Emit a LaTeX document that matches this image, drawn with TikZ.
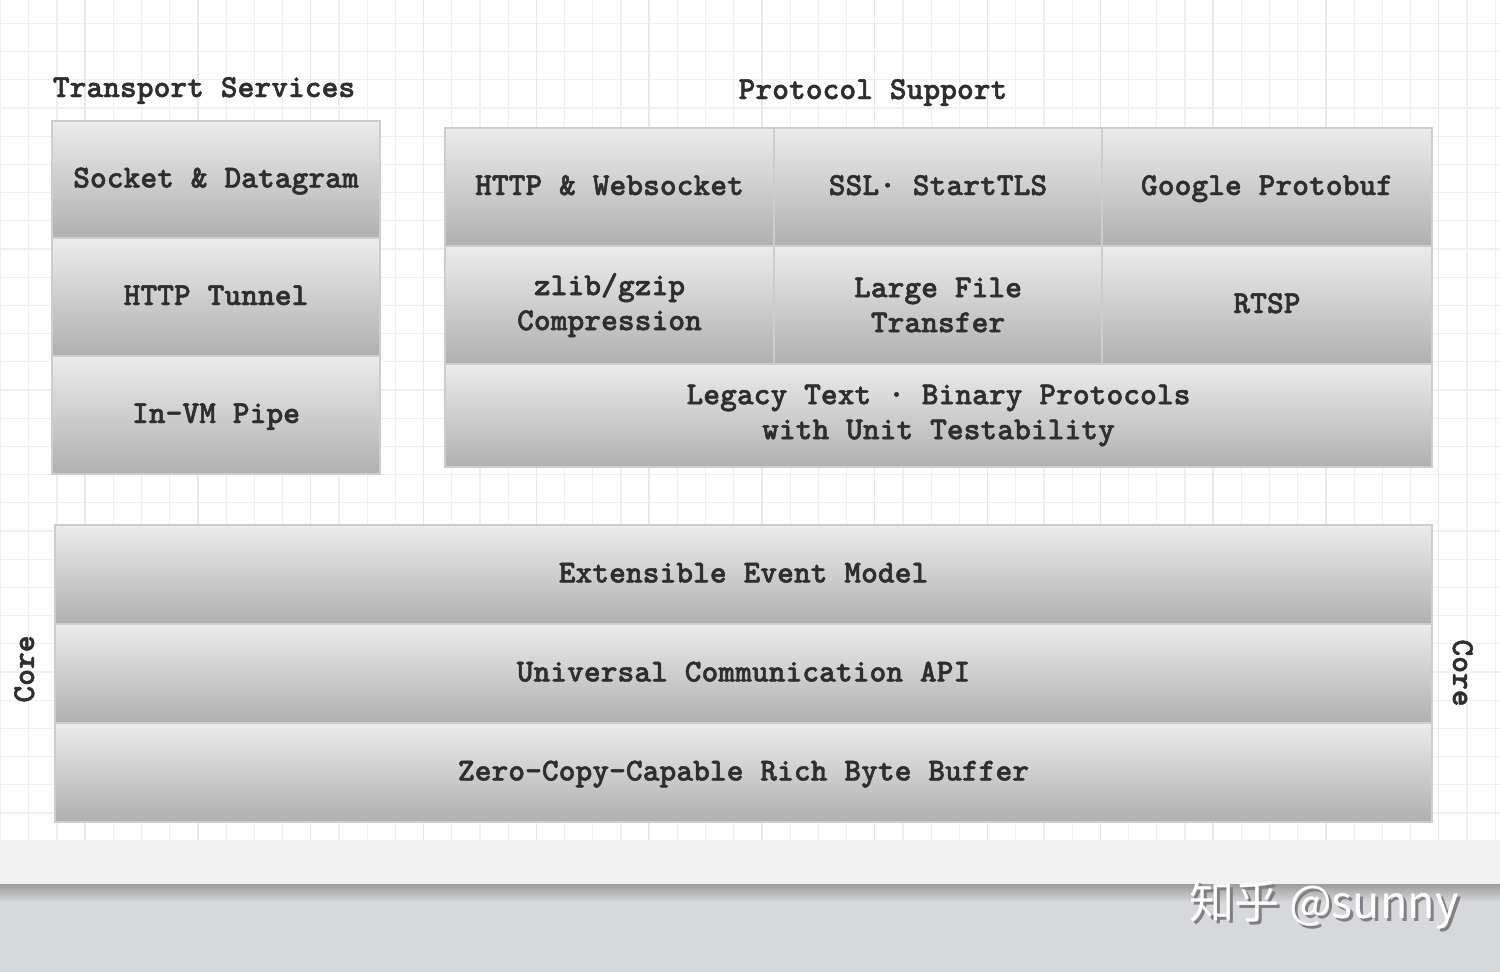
\documentclass[tikz,border=0pt]{standalone}
\usepackage{fontspec}
\newfontfamily\cjkfont{Noto Sans CJK SC}
\newfontfamily\monobold{lmmonolt10-bold.otf}[FakeBold=1.5]
\definecolor{txt}{HTML}{2E2E2E}
\definecolor{gridminor}{HTML}{EFEFEF}
\definecolor{gridmajor}{HTML}{E8E8E8}
\definecolor{boxline}{HTML}{CDCDCD}
\definecolor{boxtop}{HTML}{ECECEC}
\definecolor{boxbot}{HTML}{B0B0B0}
\definecolor{band}{HTML}{F1F1F1}
\definecolor{bottombg}{HTML}{D7D8DB}
\definecolor{bottomshadow}{HTML}{9C9C9E}
\newcommand{\boxfont}{\monobold\fontsize{32}{35}\selectfont}
\newcommand{\wmark}{知乎 @sunny}
\tikzset{
  box/.style={draw=boxline, line width=1.5pt, top color=boxtop, bottom color=boxbot,
    inner sep=0pt, align=center, text=txt, font=\boxfont},
  oneline/.style={text height=22pt, text depth=6pt},
  title/.style={inner sep=0pt, text=txt, font=\boxfont},
  wmtext/.style={inner sep=0pt, anchor=base west, font=\cjkfont\fontsize{45}{45}\selectfont}
}
\begin{document}
\begin{tikzpicture}[x=1pt,y=-1pt]
\useasboundingbox (0,0) rectangle (1500,972);
% background grid
\fill[white] (0,0) rectangle (1500,840);
\foreach \i in {0,...,53} \draw[gridminor, line width=1.2pt] ({0.5+28.2*\i},0) -- ({0.5+28.2*\i},840);
\foreach \j in {0,...,28} \draw[gridminor, line width=1.2pt] (0,{23.3+28.2*\j}) -- (1500,{23.3+28.2*\j});
\foreach \i in {3,7,...,51} \draw[gridmajor, line width=1.5pt] ({0.5+28.2*\i},0) -- ({0.5+28.2*\i},840);
% bottom band and textured base
\fill[band] (0,840) rectangle (1500,884);
\fill[bottombg] (0,884) rectangle (1500,972);
\shade[top color=bottomshadow, bottom color=bottombg] (0,884) rectangle (1500,902);

% titles
\node[title, oneline] (tstitle) at (204,89) {Transport Services};
\node[title, oneline] (pstitle) at (873,91) {Protocol Support};

% transport services
\node[box, oneline, minimum width=328pt, minimum height=117pt] (sock) at (216,179.5) {Socket \& Datagram};
\node[box, oneline, minimum width=328pt, minimum height=118pt] (tunnel) at (216,297) {HTTP Tunnel};
\node[box, oneline, minimum width=328pt, minimum height=118pt] (pipe) at (216,415) {In-VM Pipe};

% protocol support
\node[box, oneline, minimum width=329pt, minimum height=118pt] (http) at (609.5,187) {HTTP \& Websocket};
\node[box, oneline, minimum width=328pt, minimum height=118pt] (ssl) at (938,187) {SSL· StartTLS};
\node[box, oneline, minimum width=330pt, minimum height=118pt] (proto) at (1267,187) {Google Protobuf};
\node[box, minimum width=329pt, minimum height=118pt] (zlib) at (609.5,305) {zlib/gzip\\Compression};
\node[box, minimum width=328pt, minimum height=118pt] (large) at (938,305) {Large File\\Transfer};
\node[box, oneline, minimum width=330pt, minimum height=118pt] (rtsp) at (1267,305) {RTSP};
\node[box, minimum width=987pt, minimum height=103pt] (legacy) at (938.5,415.5) {Legacy Text · Binary Protocols\\with Unit Testability};

% core
\node[box, oneline, minimum width=1377pt, minimum height=99pt] (event) at (743.5,574.5) {Extensible Event Model};
\node[box, oneline, minimum width=1377pt, minimum height=99pt] (api) at (743.5,673.5) {Universal Communication API};
\node[box, oneline, minimum width=1377pt, minimum height=99pt] (buf) at (743.5,772.5) {Zero-Copy-Capable Rich Byte Buffer};

\node[title, oneline, rotate=90] (coreL) at (26,669) {Core};
\node[title, oneline, rotate=-90] (coreR) at (1461,673) {Core};

% watermark (white text with a soft grey drop shadow)
\node[wmtext, text=white] (wm) at (1189,918)
  {\makebox[0pt][l]{\kern3pt\raisebox{-3pt}{\color{black!50}\wmark}}\wmark};
\end{tikzpicture}
\end{document}
